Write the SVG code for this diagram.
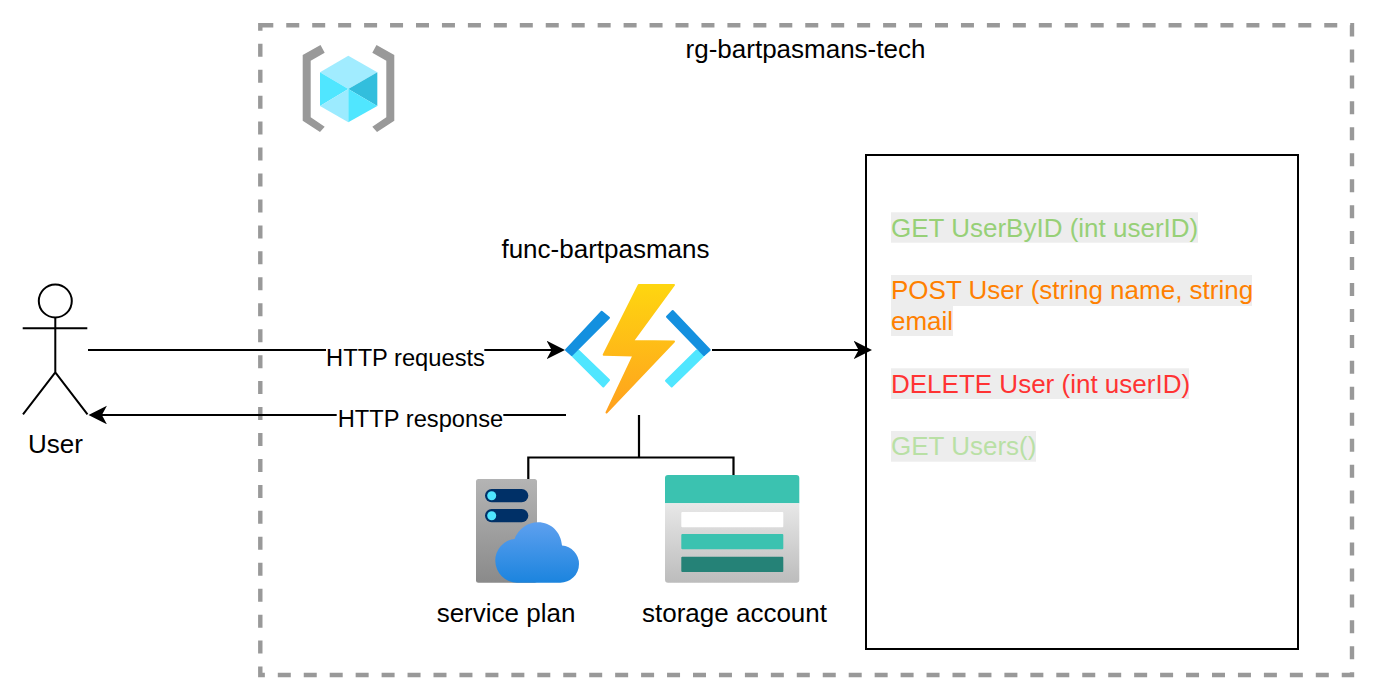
<svg xmlns="http://www.w3.org/2000/svg" width="1377" height="698" viewBox="0 0 1377 698">
<style>
text{font-family:"Liberation Sans",Arial,sans-serif;font-size:26px;fill:#000}
.c{text-anchor:middle}
.l{font-size:23.7px}
.hl{fill:#ededed}
.wire{fill:none;stroke:#000;stroke-width:2.2}
.body{fill:none;stroke:#000;stroke-width:2}
</style>
<defs>
<marker id="arrow" markerUnits="userSpaceOnUse" markerWidth="20" markerHeight="20" refX="14.4" refY="9.3" orient="auto"><path d="M0 0 L18.4 9.3 L0 18.6 L5 9.3 Z" fill="#000"/></marker>
<linearGradient id="bolt" gradientUnits="userSpaceOnUse" x1="640" y1="284" x2="640" y2="413"><stop offset="0" stop-color="#fed610"/><stop offset="1" stop-color="#ffa01e"/></linearGradient>
<linearGradient id="server" gradientUnits="userSpaceOnUse" x1="506" y1="479" x2="506" y2="583"><stop offset="0" stop-color="#b4b4b4"/><stop offset="1" stop-color="#8a8a8a"/></linearGradient>
<linearGradient id="cloud" gradientUnits="userSpaceOnUse" x1="537" y1="522" x2="537" y2="583"><stop offset="0" stop-color="#5ea0ef"/><stop offset="1" stop-color="#1b84de"/></linearGradient>
<linearGradient id="store" gradientUnits="userSpaceOnUse" x1="732" y1="503" x2="732" y2="583"><stop offset="0" stop-color="#e8e8e8"/><stop offset="1" stop-color="#bcbcbc"/></linearGradient>
</defs>

<g id="resource-group">
<rect x="260.3" y="25.3" width="1091.7" height="649.7" fill="none" stroke="#999" stroke-width="4.4" stroke-dasharray="13 12.95"/>
<text class="c" x="805.5" y="58">rg-bartpasmans-tech</text>
<g id="resource-group-icon">
<path d="M302.7 55 L320.5 45 L324.7 52.7 L310.7 60.7 L310.7 117.3 L324.7 126.7 L320 132 L302.7 120.7 Z" fill="#999"/>
<path d="M394.3 55 L376.5 45 L372.3 52.7 L386.3 60.7 L386.3 117.3 L372.3 126.7 L377 132 L394.3 120.7 Z" fill="#999"/>
<path d="M348.3 55.7 L377.3 72.3 L348.3 89 L320 72.3 Z" fill="#a1ecff"/>
<path d="M320 72.3 L348.3 89 L320 106 Z" fill="#50e6ff"/>
<path d="M377.3 72.3 L377.3 106 L348.3 89 Z" fill="#32bedd"/>
<path d="M348.3 89 L348.3 122.3 L320 106 Z" fill="#9cebff"/>
<path d="M348.3 89 L377.3 106 L348.3 122.3 Z" fill="#50e6ff"/>
</g>
</g>

<g id="api-list">
<rect x="866" y="155" width="432" height="494" fill="#fff" stroke="#000" stroke-width="2"/>
<rect class="hl" x="891" y="212.3" width="307" height="30.4"/>
<rect class="hl" x="891" y="275" width="361" height="31"/>
<rect class="hl" x="891" y="306" width="62" height="30"/>
<rect class="hl" x="891" y="368.3" width="298" height="30.7"/>
<rect class="hl" x="891" y="431" width="145" height="30.7"/>
<text x="891" y="236.5" style="fill:#97d077">GET UserByID (int userID)</text>
<text x="891" y="298.5" style="fill:#ff8000">POST User (string name, string</text>
<text x="891" y="329.5" style="fill:#ff8000">email</text>
<text x="891" y="392.5" style="fill:#ff3333">DELETE User (int userID)</text>
<text x="891" y="454.5" style="fill:#b9e0a5">GET Users()</text>
</g>

<g id="connectors">
<path class="wire" d="M88 350 H561" marker-end="url(#arrow)"/>
<path class="wire" d="M566 415 H92.5" marker-end="url(#arrow)"/>
<path class="wire" d="M712 350 H868" marker-end="url(#arrow)"/>
<path class="wire" d="M639 415 V457.5 M528.3 479 V457.5 H733.5 V475"/>
<rect x="326" y="346" width="158.3" height="25" fill="#fff"/>
<rect x="336.7" y="407" width="166.6" height="25" fill="#fff"/>
<text class="c l" x="405.5" y="365.7">HTTP requests</text>
<text class="c l" x="420.5" y="426.7">HTTP response</text>
</g>

<g id="user">
<circle cx="55.3" cy="301" r="16.5" fill="#fff" stroke="#000" stroke-width="2"/>
<path class="body" d="M55.3 317.5 V372.3 M22.7 328.3 H87.3 M55.3 372.3 L23 414.3 M55.3 372.3 L87.5 414.3"/>
<text class="c" x="55.5" y="452.5">User</text>
</g>

<g id="function-app">
<text class="c" x="605.5" y="257.5">func-bartpasmans</text>
<g stroke-linejoin="round" stroke-width="2">
<path d="M578.3 350.5 L609 380 L603.3 386.5 L571.7 355 Z" fill="#50e6ff" stroke="#50e6ff"/>
<path d="M696.7 350.5 L666 380.7 L671.7 386.5 L704 355 Z" fill="#50e6ff" stroke="#50e6ff"/>
<path d="M601.7 311.7 L609 317.7 L571.7 355 L566 350 Z" fill="#1490df" stroke="#1490df"/>
<path d="M672.7 311 L667 316.7 L704 355 L709.7 350 Z" fill="#1490df" stroke="#1490df"/>
<path d="M638.8 285 L674 285 L633 341 L674 341.5 L606.5 412.5 L633.5 355.5 L603.7 354.8 Z" fill="url(#bolt)" stroke="url(#bolt)"/>
</g>
</g>

<g id="service-plan">
<rect x="476" y="479" width="61" height="103.7" rx="2.5" fill="url(#server)"/>
<rect x="485" y="489" width="43.3" height="13.3" rx="6.6" fill="#003067"/>
<rect x="485" y="509" width="43.3" height="13.3" rx="6.6" fill="#003067"/>
<circle cx="491.7" cy="495.7" r="4.5" fill="#50e6ff"/>
<circle cx="491.7" cy="515.7" r="4.5" fill="#50e6ff"/>
<path d="M517 582.7 A22 22 0 0 1 495.3 561 A21.5 21.5 0 0 1 514.5 539 A25 25 0 0 1 538 522.3 C551 522.3 561 532 562 545.5 A18.5 18.5 0 0 1 579 564 A18.7 18.7 0 0 1 560 582.7 Z" fill="url(#cloud)"/>
<text class="c" x="506" y="621.5">service plan</text>
</g>

<g id="storage-account">
<path d="M665 503.3 V478 Q665 475 668 475 H796.3 Q799.3 475 799.3 478 V503.3 Z" fill="#3bc2b0"/>
<path d="M665 503.3 H799.3 V579.7 Q799.3 582.7 796.3 582.7 H668 Q665 582.7 665 579.7 Z" fill="url(#store)"/>
<rect x="681.3" y="512" width="102" height="15.3" rx="1" fill="#fff"/>
<rect x="681.3" y="534" width="102" height="15.3" rx="1" fill="#3bc2b0"/>
<rect x="681.3" y="556.7" width="102" height="15.3" rx="1" fill="#258277"/>
<text class="c" x="734.5" y="621.5">storage account</text>
</g>
</svg>
